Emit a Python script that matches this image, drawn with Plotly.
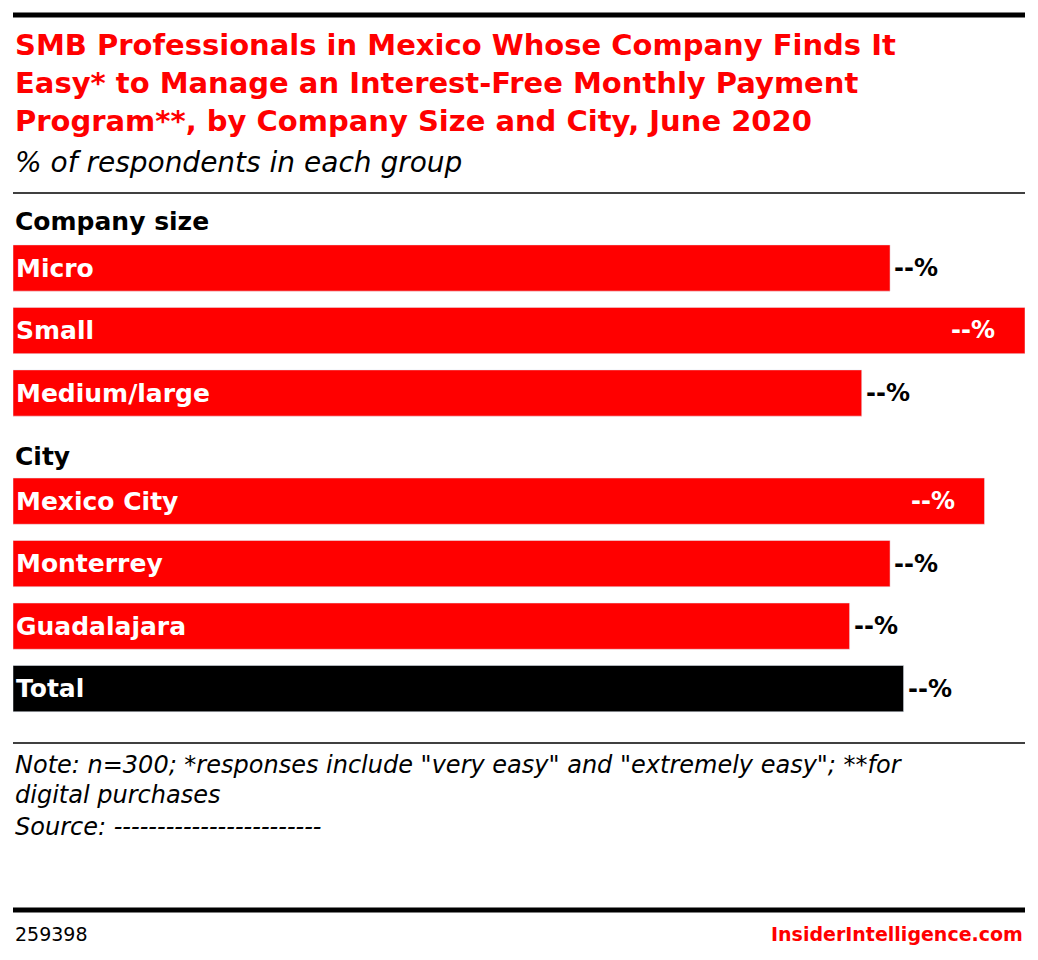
import plotly.graph_objects as go

categories = ["Micro", "Small", "Medium/large", "Mexico City", "Monterrey", "Guadalajara", "Total"]
groups = [0, 0, 0, 1, 1, 1, 1]
values = [65.0, 75.0, 62.9, 72.0, 65.0, 62.0, 66.0]
value_labels = ["--%"] * 7
colors = ["#ff0000"] * 6 + ["#000000"]
inside_value = [False, True, False, True, False, False, False]

FONT = "DejaVu Sans"
OFF = 8  # page body margin compensation
pos = [i + g * 0.73 for i, g in enumerate(groups)]
W, H = 1038 - 2 * OFF, 960 - 2 * OFF

def px(x):
    return (x - OFF) / W

def py(y):
    return 1 - (y - OFF) / H

fig = go.Figure(go.Bar(
    x=values, y=pos, orientation="h", width=0.74, marker_color=colors,
    text=categories, textposition="inside", insidetextanchor="start",
    textfont=dict(family=FONT, size=25, color="white", weight="bold"),
    cliponaxis=False, hoverinfo="skip"))

ann = []
for v, p, t, ins in zip(values, pos, value_labels, inside_value):
    ann.append(dict(x=v, y=p, xref="x", yref="y", text=t, showarrow=False,
                    xanchor="right" if ins else "left", xshift=-28 if ins else 2,
                    font=dict(family=FONT, size=24, weight="bold", color="white" if ins else "black")))

def txt(y, text, size, color="black", weight="normal", style="normal", x=13, xanchor="left"):
    ann.append(dict(x=px(x), y=py(y), xref="paper", yref="paper", text=text, showarrow=False,
                    xanchor=xanchor, yanchor="middle", align="left",
                    font=dict(family=FONT, size=size, color=color, weight=weight, style=style)))

red = "#ff0000"
txt(45, "SMB Professionals in Mexico Whose Company Finds It", 29, red, "bold")
txt(83, "Easy* to Manage an Interest-Free Monthly Payment", 29, red, "bold")
txt(121, "Program**, by Company Size and City, June 2020", 29, red, "bold")
txt(163, "% of respondents in each group", 28, "black", style="italic")
txt(221, "Company size", 25, weight="bold")
txt(456, "City", 25, weight="bold")
txt(765, 'Note: n=300; *responses include "very easy" and "extremely easy"; **for', 24, style="italic")
txt(795, "digital purchases", 24, style="italic")
txt(827, "Source: ------------------------", 24, style="italic")
txt(934, "259398", 19)
txt(934, "InsiderIntelligence.com", 19, red, "bold", x=1025, xanchor="right")

def hline(y, w):
    return dict(type="line", xref="paper", yref="paper", x0=px(13), x1=px(1025),
                y0=py(y), y1=py(y), line=dict(color="black", width=w))

unit = 62.5
y_top = 268 - unit * 0.5
y_bot = y_top + unit * (pos[-1] + 1)
fig.update_layout(
    width=W, height=H, margin=dict(l=0, r=0, t=0, b=0),
    plot_bgcolor="white", paper_bgcolor="white", showlegend=False,
    xaxis=dict(range=[0, 75], domain=[px(13), px(1025)], visible=False),
    yaxis=dict(range=[pos[-1] + 0.5, -0.5], domain=[py(y_bot), py(y_top)], visible=False),
    annotations=ann,
    shapes=[hline(15, 5), hline(193, 1.5), hline(743, 1.5), hline(910, 5)])
fig.write_html("out.html")
